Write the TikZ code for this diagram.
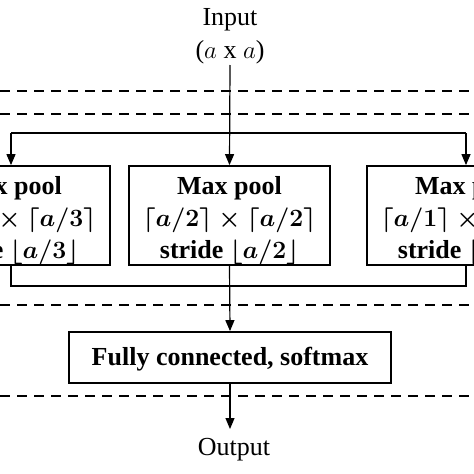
\documentclass[tikz,border=0pt]{standalone}
\usepackage{fontspec}
\setmainfont{Liberation Serif}
\usetikzlibrary{arrows.meta}
\tikzset{
  poolbox/.style={draw, line width=1.8pt, minimum width=201pt, minimum height=99pt,
    align=center, inner sep=0pt, font=\fontsize{26}{32}\selectfont\bfseries\boldmath},
  fcbox/.style={draw, line width=1.8pt, minimum width=322pt, minimum height=51pt,
    inner sep=0pt, font=\fontsize{26}{32}\selectfont\bfseries},
  lbl/.style={inner sep=0pt, align=center, font=\fontsize{26}{33}\selectfont},
  conn/.style={line width=1.2pt},
  arr/.style={conn, -{Triangle[length=11pt,width=9pt]}},
  sepline/.style={line width=1.5pt, dash pattern=on 10pt off 7pt}
}
\newcommand{\toppad}{\rule{0pt}{28pt}}
\begin{document}
\begin{tikzpicture}[x=1pt,y=-1pt]
\useasboundingbox (0,0) rectangle (474,474);
\clip (0,0) rectangle (474,474);
\fill[white] (0,0) rectangle (474,474);
% dashed separators
\coordinate (d1l) at (0,91);   \coordinate (d1r) at (474,91);
\coordinate (d2l) at (0,114);  \coordinate (d2r) at (474,114);
\coordinate (d3l) at (0,305);  \coordinate (d3r) at (474,305);
\coordinate (d4l) at (0,396);  \coordinate (d4r) at (474,396);
\draw[sepline] (d1l) -- (d1r);
\draw[sepline] (d2l) -- (d2r);
\draw[sepline] (d3l) -- (d3r);
\draw[sepline] (d4l) -- (d4r);
% nodes
\node[lbl] (input) at (230,36) {Input\\($a$ x $a$)};
\node[poolbox] (mpA) at (9.5,215.5) {\toppad Max pool\\$\lceil a/3\rceil\times\lceil a/3\rceil$\\stride $\lfloor a/3\rfloor$};
\node[poolbox] (mpB) at (229.5,215.5) {\toppad Max pool\\$\lceil a/2\rceil\times\lceil a/2\rceil$\\stride $\lfloor a/2\rfloor$};
\node[poolbox] (mpC) at (467.5,215.5) {\toppad Max pool\\$\lceil a/1\rceil\times\lceil a/1\rceil$\\stride $\lfloor a/1\rfloor$};
\node[fcbox] (fc) at (230,357.5) {\rule{0pt}{21pt}Fully connected, softmax};
\node[lbl] (output) at (234,450) {Output};
% connectors
\coordinate (top) at (230,65);
\coordinate (spl) at (11,133);
\coordinate (spr) at (466,133);
\coordinate (bl) at (11,286);
\coordinate (br) at (466,286);
\draw[arr] (top) -- (mpB.north);
\draw[conn] (spl) -- (spr);
\draw[arr] (spl) -- (spl |- mpA.north);
\draw[arr] (spr) -- (spr |- mpC.north);
\draw[conn] (bl |- mpA.south) -- (bl) -- (br) -- (br |- mpC.south);
\draw[arr] (mpB.south) -- (fc.north);
\coordinate (out) at (230,429);
\draw[arr] (fc.south) -- (out);
\end{tikzpicture}
\end{document}
